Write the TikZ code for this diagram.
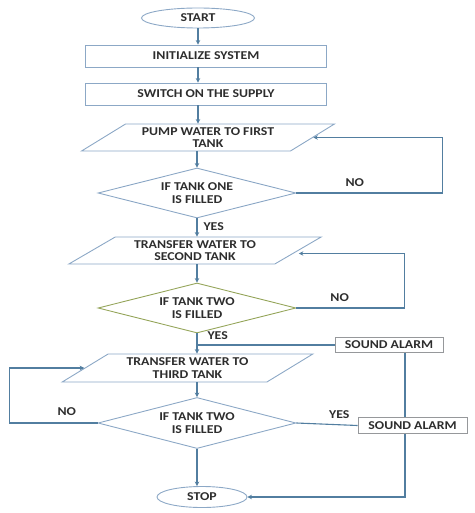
\documentclass[tikz,border=0pt]{standalone}
\usepackage{fontspec}
\setmainfont{Carlito}[FakeStretch=1.15]
\usetikzlibrary{shapes.geometric,arrows.meta,positioning}
\definecolor{shapeblue}{RGB}{140,168,198}
\definecolor{linkblue}{RGB}{82,126,160}
\definecolor{olivegreen}{RGB}{150,166,92}
\definecolor{alarmgray}{RGB}{150,152,155}
\definecolor{textgray}{RGB}{45,45,45}
\tikzset{
  base/.style={draw=shapeblue, line width=0.9pt, text=textgray, inner sep=0pt,
   align=center, font=\bfseries\fontsize{12}{12.5}\selectfont},
  terminal/.style={base, ellipse, minimum width=113pt, minimum height=20pt},
  process/.style={base, rectangle, minimum width=241pt, minimum height=22pt},
  io/.style={base, trapezium, trapezium left angle=30, trapezium right angle=150,
   trapezium stretches=true, minimum width=253pt, minimum height=27pt},
  decision/.style={base, diamond, aspect=4, minimum width=198pt, minimum height=50pt},
  alarm/.style={base, draw=alarmgray, rectangle, minimum width=108pt, minimum height=15pt},
  link/.style={draw=linkblue, line width=1.1pt},
  flow/.style={link, -{Stealth[length=4.5pt,width=4.5pt]}},
  lbl/.style={text=textgray, inner sep=0pt, font=\bfseries\fontsize{12}{12}\selectfont}
}
\begin{document}
\begin{tikzpicture}[x=1pt,y=-1pt]
\useasboundingbox (0,0) rectangle (474,513);
% main column
\node[terminal] (start) at (198,18) {START};
\node[process] (init) at (206,56) {INITIALIZE SYSTEM};
\node[process] (supply) at (206,94) {SWITCH ON THE SUPPLY};
\node[io] (pump) at (208,137.5) {PUMP WATER TO FIRST\\TANK};
\node[decision] (tankone) at (197,193) {IF TANK ONE\\IS FILLED};
\node[io] (second) at (195,250.5) {TRANSFER WATER TO\\SECOND TANK};
\node[decision, draw=olivegreen] (tanktwo) at (197,308) {IF TANK TWO\\IS FILLED};
\node[io, minimum width=251pt, minimum height=28pt] (third) at (187.5,368) {TRANSFER WATER TO\\THIRD TANK};
\node[decision, minimum height=51pt] (tankthree) at (197,423) {IF TANK TWO\\IS FILLED};
\node[terminal, minimum width=90pt, minimum height=21pt] (stop) at (202,497) {STOP};
% alarms
\node[alarm] (alarmone) at (389,345) {SOUND ALARM};
\node[alarm, minimum width=109pt, minimum height=16pt] (alarmtwo) at (412.5,425.5) {SOUND ALARM};
\coordinate (rail) at (405,497);
% connectors
\draw[flow] (start.south) -- (start.south |- init.north);
\draw[flow] (init.south -| start) -- (start |- supply.north);
\draw[flow] (supply.south -| start) -- (start |- pump.north);
\draw[flow] (pump.south -| tankone) -- (tankone.north);
\draw[flow] (tankone.south) -- (tankone.south |- second.north) node[lbl, pos=0.45, right=6pt] {YES};
\draw[flow] (second.south -| tankone) -- (tanktwo.north);
\draw[flow] (tanktwo.south) -- (tanktwo.south |- third.north) node[lbl, pos=0.1, right=10pt] {YES};
\draw[flow] (third.south -| tanktwo) -- (tankthree.north);
\draw[flow] (tankthree.south) -- (tankthree.south |- stop.north);
% loops back
\draw[flow] (tankone.east) -- ++(146,0) node[lbl, pos=0.4, above=6pt] {NO} |- (pump.east);
\draw[flow] (tanktwo.east) -- ++(108,0) node[lbl, pos=0.4, above=6pt] {NO} |- ([yshift=-3pt]second.east);
\draw[flow] (tankthree.west) -- ++(-88,0) node[lbl, pos=0.35, above=7pt] {NO} |- (third.west);
% alarm path
\draw[link] (alarmone.west) -- (alarmone.west -| tanktwo);
\draw[link] (tankthree.east) -- (alarmtwo.west) node[lbl, pos=0.7, above=6pt] {YES};
\draw[link] (alarmone.south -| rail) -- (alarmtwo.north -| rail);
\draw[flow] (alarmtwo.south -| rail) -- (rail) -- (stop.east);
\end{tikzpicture}
\end{document}
